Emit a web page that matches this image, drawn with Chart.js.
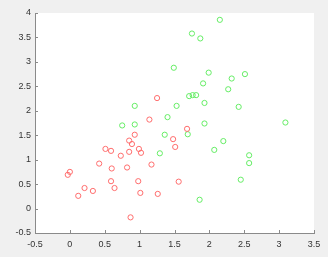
<!DOCTYPE html>
<html>
<head>
<meta charset="utf-8">
<script src="https://cdn.jsdelivr.net/npm/chart.js@4"></script>
<style>
  html, body { margin: 0; padding: 0; background: #f0f0f0; }
  #wrap { width: 328px; height: 257px; }
</style>
</head>
<body>
<div id="wrap"><canvas id="chart" width="328" height="257"></canvas></div>
<script>
// --- DATA ---
const redX = [1.25, 1.14, 1.68, 1.48, 1.51, 1.56, 0.93, 0.85, 0.89, 0.51, 0.59, 0.85, 0.99, 1.02, 0.73,
              0.42, 1.17, 0.60, 0.82, 0.00, -0.03, 0.59, 0.98, 0.21, 0.64, 0.33, 0.12, 1.01, 1.26, 0.87];
const redY = [2.26, 1.82, 1.63, 1.42, 1.26, 0.55, 1.51, 1.39, 1.32, 1.22, 1.18, 1.16, 1.22, 1.14, 1.08,
              0.92, 0.90, 0.82, 0.84, 0.75, 0.69, 0.56, 0.56, 0.42, 0.42, 0.36, 0.26, 0.32, 0.30, -0.18];
const greenX = [0.93, 1.40, 0.75, 0.93, 2.15, 1.75, 1.87, 1.49, 1.99, 2.51, 2.32, 1.91, 2.27, 1.71, 1.76,
                1.81, 1.93, 1.53, 2.42, 3.09, 1.93, 1.36, 1.69, 2.20, 2.07, 2.57, 2.57, 1.29, 2.45, 1.86];
const greenY = [2.10, 1.87, 1.70, 1.72, 3.86, 3.58, 3.48, 2.88, 2.78, 2.75, 2.66, 2.56, 2.44, 2.30, 2.32,
                2.32, 2.16, 2.10, 2.08, 1.76, 1.74, 1.51, 1.52, 1.38, 1.20, 1.09, 0.93, 1.13, 0.59, 0.18];
const xTicks = [-0.5, 0, 0.5, 1, 1.5, 2, 2.5, 3, 3.5];
const yTicks = [-0.5, 0, 0.5, 1, 1.5, 2, 2.5, 3, 3.5, 4];

const toPoints = (xs, ys) => xs.map((x, i) => ({ x: x, y: ys[i] }));
const fmt = v => String(Math.round(v * 10) / 10);

// figure grey, axes white
const backgroundPlugin = {
    id: 'bg',
    beforeDraw: (chart) => {
        const { ctx, chartArea: a } = chart;
        ctx.save();
        ctx.fillStyle = '#f0f0f0';
        ctx.fillRect(0, 0, chart.width, chart.height);
        ctx.fillStyle = '#ffffff';
        ctx.fillRect(a.left, a.top, a.right - a.left, a.bottom - a.top);
        ctx.restore();
    }
};

// MATLAB style inward ticks
const tickPlugin = {
    id: 'inTicks',
    afterDatasetsDraw: (chart) => {
        const { ctx, chartArea: a, scales } = chart;
        ctx.save();
        ctx.strokeStyle = '#8a8a8a';
        ctx.lineWidth = 1;
        ctx.beginPath();
        xTicks.forEach(v => {
            const px = Math.round(scales.x.getPixelForValue(v)) + 0.5;
            ctx.moveTo(px, a.bottom);
            ctx.lineTo(px, a.bottom - 3);
        });
        yTicks.forEach(v => {
            const py = Math.round(scales.y.getPixelForValue(v)) + 0.5;
            ctx.moveTo(a.left, py);
            ctx.lineTo(a.left + 3, py);
        });
        ctx.stroke();
        ctx.restore();
    }
};

const tickFont = { family: '"Liberation Sans", Arial, sans-serif', size: 9 };

new Chart(document.getElementById('chart'), {
    type: 'scatter',
    data: {
        datasets: [
            {
                data: toPoints(redX, redY),
                borderColor: '#ff6e6e',
                backgroundColor: 'rgba(0,0,0,0)',
                pointRadius: 2.6,
                borderWidth: 1
            },
            {
                data: toPoints(greenX, greenY),
                borderColor: '#66ee66',
                backgroundColor: 'rgba(0,0,0,0)',
                pointRadius: 2.6,
                borderWidth: 1
            }
        ]
    },
    options: {
        responsive: false,
        animation: false,
        layout: { padding: { top: 13, right: 14, left: 0, bottom: 0 } },
        plugins: { legend: { display: false }, tooltip: { enabled: false } },
        scales: {
            x: {
                type: 'linear',
                min: -0.5,
                max: 3.5,
                afterBuildTicks: (scale) => { scale.ticks = xTicks.map(v => ({ value: v })); },
                afterFit: (scale) => { scale.height = 24; },
                grid: { drawOnChartArea: false, drawTicks: false },
                border: { display: true, color: '#8a8a8a', width: 1 },
                ticks: { callback: fmt, color: '#333333', font: tickFont, padding: 6, maxRotation: 0 }
            },
            y: {
                type: 'linear',
                min: -0.5,
                max: 4,
                afterBuildTicks: (scale) => { scale.ticks = yTicks.map(v => ({ value: v })); },
                afterFit: (scale) => { scale.width = 35; },
                grid: { drawOnChartArea: false, drawTicks: false },
                border: { display: true, color: '#8a8a8a', width: 1 },
                ticks: { callback: fmt, color: '#333333', font: tickFont, padding: 4 }
            }
        }
    },
    plugins: [backgroundPlugin, tickPlugin]
});
</script>
</body>
</html>
